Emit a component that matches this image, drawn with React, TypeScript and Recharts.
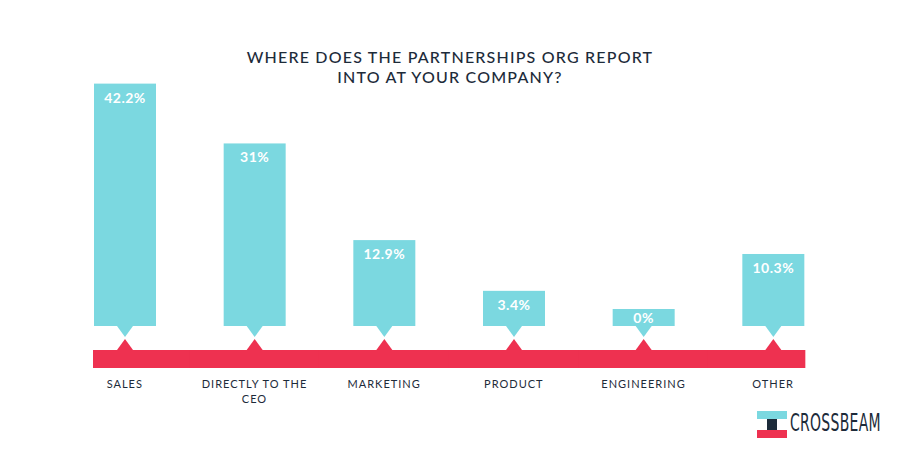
import { BarChart, Bar, XAxis, YAxis } from 'recharts'

const categories = ['SALES', 'DIRECTLY TO THE CEO', 'MARKETING', 'PRODUCT', 'ENGINEERING', 'OTHER']
const values = [42.2, 31, 12.9, 3.4, 0, 10.3]
const valueLabels = ['42.2%', '31%', '12.9%', '3.4%', '0%', '10.3%']

const data = categories.map((c, i) => ({ name: c, value: values[i], label: valueLabels[i] }))

const CYAN = '#7bd8e0'
const RED = '#ee3150'
const NAVY = '#1d2b3a'

function BarShape(props: any) {
  const { x, y, width, height, index, payload } = props
  const cx = x + width / 2
  const bottom = y + height
  const top = y - 17
  const bandTop = bottom + 24
  const left = index === 0 ? cx - 32 : cx - 65.5
  const right = index === categories.length - 1 ? cx + 32 : cx + 65.5
  return (
    <g>
      <rect x={left} y={bandTop} width={right - left} height={18} fill={RED} />
      <polygon points={`${cx - 8},${bandTop} ${cx + 8},${bandTop} ${cx},${bandTop - 11}`} fill={RED} />
      <rect x={x} y={top} width={width} height={bottom - top} fill={CYAN} />
      <polygon points={`${cx - 8},${bottom} ${cx + 8},${bottom} ${cx},${bottom + 11}`} fill={CYAN} />
      <text x={cx} y={Math.min(top + 19, bottom - 3)} textAnchor="middle" fill="#fff" fontSize={14} fontWeight={700} letterSpacing={0.5} fontFamily="Lato, sans-serif">
        {payload.label}
      </text>
    </g>
  )
}

function Tick(props: any) {
  const { x, y, payload } = props
  const lines = payload.value === 'DIRECTLY TO THE CEO' ? ['DIRECTLY TO THE', 'CEO'] : [payload.value]
  return (
    <text x={x} y={y} textAnchor="middle" fill={NAVY} fontSize={11} letterSpacing={1} fontFamily="Lato, sans-serif">
      {lines.map((l, i) => (
        <tspan key={i} x={x} dy={i === 0 ? 54 : 15}>{l}</tspan>
      ))}
    </text>
  )
}

export default function App() {
  return (
    <div style={{ position: 'absolute', left: 0, top: 0, width: 900, height: 450, background: '#fff', fontFamily: 'Lato, sans-serif' }}>
      <div style={{ position: 'absolute', top: 47, width: 900, textAlign: 'center', color: NAVY, fontSize: 16, fontWeight: 500, letterSpacing: 1.2, lineHeight: '20px' }}>
        WHERE DOES THE PARTNERSHIPS ORG REPORT<br />INTO AT YOUR COMPANY?
      </div>
      <BarChart width={900} height={450} data={data} margin={{ top: 91, right: 62, left: 60, bottom: 0 }}>
        <YAxis hide domain={[0, 44]} />
        <XAxis dataKey="name" axisLine={false} tickLine={false} tick={<Tick />} interval={0} height={124} />
        <Bar dataKey="value" barSize={62} shape={<BarShape />} isAnimationActive={false} />
      </BarChart>
      <div style={{ position: 'absolute', left: 757, top: 411, width: 30, height: 27 }}>
        <div style={{ position: 'absolute', left: 0, top: 0, width: 30, height: 8, background: CYAN }} />
        <div style={{ position: 'absolute', left: 10, top: 8, width: 10, height: 11, background: NAVY }} />
        <div style={{ position: 'absolute', left: 0, top: 19, width: 30, height: 8, background: RED }} />
      </div>
      <div style={{ position: 'absolute', left: 790, top: 408, color: NAVY, fontSize: 25, fontFamily: '"DejaVu Sans", sans-serif', letterSpacing: 0.5, transformOrigin: 'left top', transform: 'scaleX(0.56)', whiteSpace: 'nowrap' }}>
        CROSSBEAM
      </div>
    </div>
  )
}
